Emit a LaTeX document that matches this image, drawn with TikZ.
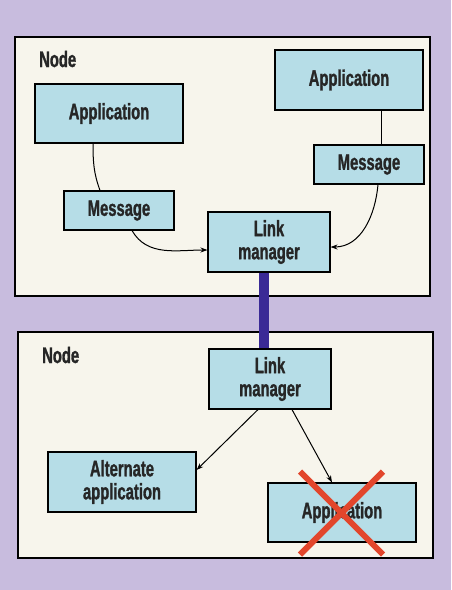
\documentclass[tikz,border=0pt]{standalone}
\usepackage{fontspec}
\setmainfont[FakeStretch=0.66, BoldFeatures={FakeBold=1.2}]{Liberation Sans}
\usetikzlibrary{arrows.meta}

\definecolor{bgpurple}{RGB}{200,188,222}
\definecolor{paper}{RGB}{247,245,236}
\definecolor{boxblue}{RGB}{182,221,231}
\definecolor{linkblue}{RGB}{58,42,150}
\definecolor{crossred}{RGB}{226,70,44}

\begin{document}
\begin{tikzpicture}[x=1pt, y=-1pt,
  frm/.style={rectangle, draw, line width=1.2pt, fill=paper, inner sep=0pt},
  unit/.style={rectangle, draw, line width=1.1pt, fill=boxblue, inner sep=0pt, align=center, text=black!85, font=\fontsize{22.4}{23}\selectfont\bfseries},
  lbl/.style={anchor=base west, inner sep=0pt, text=black!85, font=\fontsize{22.4}{23}\selectfont\bfseries},
  arrow/.style={->, >={Stealth[length=7pt, width=5pt]}, line width=1pt},
  wire/.style={line width=1pt},
  link/.style={line width=10pt, linkblue, shorten <=0.6pt, shorten >=0.6pt},
  cross/.style={line width=6pt, crossred}
]
\fill[bgpurple] (0,0) rectangle (451,590);

% the two nodes
\node[frm, minimum width=415, minimum height=259] (nodeA) at (222.5,166.5) {};
\node[frm, minimum width=415, minimum height=226] (nodeB) at (225.5,445) {};
\node[lbl] (tagA) at (39,67) {Node};
\node[lbl] (tagB) at (42,363) {Node};

% upper node
\node[unit, minimum width=148, minimum height=59] (appL) at (109,113.5) {Application};
\node[unit, minimum width=148, minimum height=60] (appR) at (349,80) {Application};
\node[unit, minimum width=110, minimum height=39] (msgL) at (119,210.5) {Message};
\node[unit, minimum width=110, minimum height=39] (msgR) at (369,164.5) {Message};
\node[unit, minimum width=122, minimum height=60] (lmA) at (269,242) {Link\\manager};

% lower node
\node[unit, minimum width=122, minimum height=60] (lmB) at (270,379) {Link\\manager};
\node[unit, minimum width=148, minimum height=60] (alt) at (122,482) {Alternate\\application};
\node[unit, minimum width=148, minimum height=59] (appX) at (342,512.5) {Application};

\draw[wire] ([xshift=-16]appL.south) to[out=-90, in=110] ([xshift=-19]msgL.north);
\draw[arrow] ([xshift=13]msgL.south) to[out=-60, in=180] ([yshift=-8]lmA.west);
\draw[wire] ([xshift=32]appR.south) -- ([xshift=12]msgR.north);
\draw[arrow] ([xshift=9]msgR.south) to[out=-95, in=0] ([yshift=-5]lmA.east);
\draw[link] ([xshift=-5]lmA.south) -- ([xshift=-6]lmB.north);
\draw[arrow] ([xshift=-12]lmB.south) -- ([yshift=12]alt.east);
\draw[arrow] ([xshift=22]lmB.south) -- ([xshift=-10]appX.north);

% failed application
\draw[cross] ([shift={(-42,-41)}]appX.center) -- ([shift={(41,42)}]appX.center);
\draw[cross] ([shift={(41,-41)}]appX.center) -- ([shift={(-42,42)}]appX.center);
\end{tikzpicture}
\end{document}
